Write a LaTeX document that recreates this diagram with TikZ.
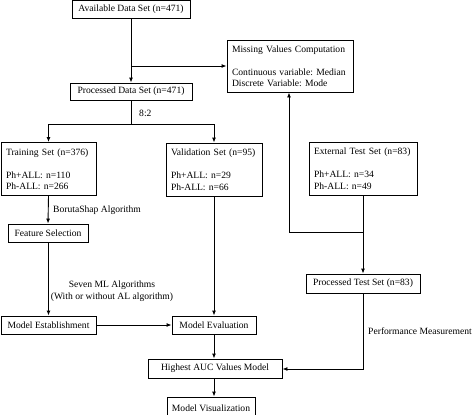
\documentclass[tikz,border=0pt]{standalone}
\usepackage{fontspec}
\setmainfont{Liberation Serif}
\usetikzlibrary{arrows.meta}
\frenchspacing
\begin{document}
\begin{tikzpicture}[x=1pt,y=-1pt,
  box/.style={draw, line width=0.9pt, inner sep=0pt, font=\fontsize{9.6}{11.5}\selectfont, anchor=center},
  mbox/.style={box, align=left, inner xsep=5pt},
  lbl/.style={font=\fontsize{9.6}{11.5}\selectfont, inner sep=0pt},
  conn/.style={line width=0.9pt},
  arr/.style={conn, -{Latex[length=5pt,width=4pt]}}]
\useasboundingbox (0,0) rectangle (474,415);
\clip (0,0) rectangle (474,415);
\node[box, minimum width=118pt, minimum height=18pt] (avail) at (131,9.5) {Available Data Set (n=471)};
\node[mbox, text width=116pt, minimum height=52pt] (miss) at (290,66) {Missing Values Computation\\[11.5pt]Continuous variable: Median\\Discrete Variable: Mode};
\node[box, minimum width=122pt, minimum height=17pt] (proc) at (131,91.5) {Processed Data Set (n=471)};
\node[mbox, text width=85pt, minimum height=53pt] (train) at (48.5,169) {Training Set (n=376)\\[11.5pt]Ph+ALL: n=110\\Ph-ALL: n=266};
\node[mbox, text width=86pt, minimum height=53pt] (valid) at (214,169.5) {Validation Set (n=95)\\[11.5pt]Ph+ALL: n=29\\Ph-ALL: n=66};
\node[mbox, text width=98pt, minimum height=53pt] (ext) at (363,168.5) {External Test Set (n=83)\\[11.5pt]Ph+ALL: n=34\\Ph-ALL: n=49};
\node[box, minimum width=80pt, minimum height=18pt] (feat) at (48,233) {Feature Selection};
\node[box, minimum width=114pt, minimum height=19pt] (ptest) at (363,283.5) {Processed Test Set (n=83)};
\node[box, minimum width=95pt, minimum height=18pt] (estab) at (48.5,325) {Model Establishment};
\node[box, minimum width=84pt, minimum height=18pt] (eval) at (214,325) {Model Evaluation};
\node[box, minimum width=134pt, minimum height=19pt] (auc) at (215,368.5) {Highest AUC Values Model};
\node[box, minimum width=88pt, minimum height=24pt, text depth=0pt] (vis) at (211,409) {\raisebox{2pt}{Model Visualization}};
% connectors
\coordinate (j1) at (131,66);
\coordinate (j2) at (131,124);
\coordinate (jt) at (48.5,124);
\coordinate (jv) at (214,124);
\coordinate (je) at (363,232);
\coordinate (jm) at (289,232);
\coordinate (jp) at (363,369);
\draw[arr] (avail.south) -- (proc.north);
\draw[arr] (j1) -- (miss.west);
\draw[conn] (proc.south) -- (j2);
\draw[conn] (jt) -- (jv);
\draw[arr] (jt) -- (train.north);
\draw[arr] (jv) -- (valid.north);
\draw[arr] (train.south) -- (feat.north);
\draw[arr] (feat.south -| estab.north) -- (estab.north);
\draw[arr] (estab.east) -- (eval.west);
\draw[arr] (valid.south) -- (eval.north);
\draw[arr] (eval.south) -- (eval.south |- auc.north);
\draw[arr] (eval.south |- auc.south) -- (eval.south |- vis.north);
\draw[arr] (ext.south) -- (ptest.north);
\draw[arr] (je) -- (jm) -- (jm |- miss.south);
\draw[arr] (ptest.south) -- (jp) -- (auc.east |- jp);
% labels
\node[lbl, anchor=west] (l82) at (139,113) {8:2};
\node[lbl, anchor=west] (lbor) at (53,210) {BorutaShap Algorithm};
\node[lbl, align=center] (lml) at (112,291) {Seven ML Algorithms\\(With or without AL algorithm)};
\node[lbl, anchor=west] (lpm) at (368,331) {Performance Measurement};
\end{tikzpicture}
\end{document}
